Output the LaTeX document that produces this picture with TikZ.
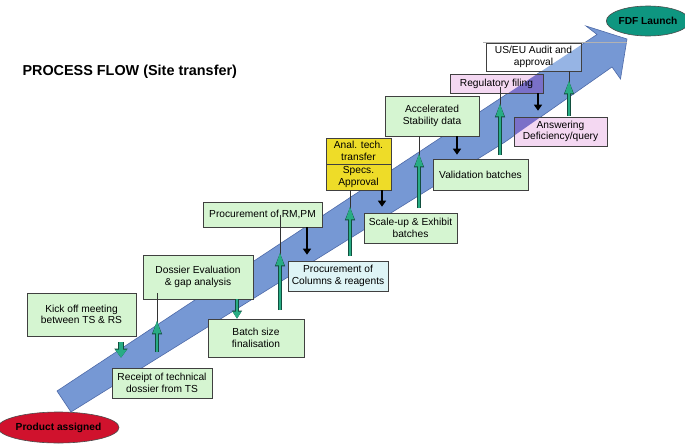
\documentclass[tikz,border=0pt]{standalone}
\usepackage{fontspec}
\setmainfont{Liberation Sans}
\usetikzlibrary{arrows.meta, positioning, shapes.geometric, calc}

\pgfdeclarelayer{background}
\pgfsetlayers{background,main}

\definecolor{bandblue}{RGB}{118,152,212}
\definecolor{bandedge}{RGB}{78,106,168}
\definecolor{bandpurple}{RGB}{122,112,200}
\definecolor{bandlight}{RGB}{150,180,228}
\definecolor{boxgreen}{RGB}{213,245,209}
\definecolor{boxcyan}{RGB}{222,244,246}
\definecolor{boxyellow}{RGB}{238,220,40}
\definecolor{boxpink}{RGB}{244,216,242}
\definecolor{arrowteal}{RGB}{40,172,132}
\definecolor{arrowedge}{RGB}{18,78,62}
\definecolor{launchteal}{RGB}{14,150,128}
\definecolor{startred}{RGB}{208,18,45}

\tikzset{
    stepbox/.style={draw=black!75, line width=0.6pt, fill=boxgreen, align=center,
        inner sep=0pt, font=\fontsize{10.2}{11.7}\selectfont},
    milestone/.style={ellipse, draw=black!70, line width=0.6pt, inner sep=0pt,
        font=\bfseries\fontsize{10.2}{12}\selectfont},
    link/.style={draw=black!80, line width=0.6pt},
    up/.style={draw=arrowteal, line width=2.6pt, -{Triangle[length=13pt,width=7.5pt]},
        preaction={draw=arrowedge, line width=3.6pt, -{Triangle[length=14pt,width=9pt]}}},
    downfat/.style={draw=arrowteal, line width=4.4pt, -{Triangle[length=8pt,width=11pt]},
        preaction={draw=arrowedge, line width=5.4pt, -{Triangle[length=9pt,width=12.6pt]}}},
    downteal/.style={draw=arrowteal, line width=2.6pt, -{Triangle[length=7pt,width=8pt]},
        preaction={draw=arrowedge, line width=3.6pt, -{Triangle[length=8pt,width=9.5pt]}}},
    downblack/.style={draw=black, line width=2.4pt, -{Triangle[length=6pt,width=8pt]}},
}

\begin{document}
\begin{tikzpicture}[x=1pt, y=-1pt]
    \useasboundingbox (0,0) rectangle (685,447);

    % Big arrow outline
    \coordinate (tailup) at (57,391);
    \coordinate (taillow) at (71,412);
    \coordinate (neckup) at (597,34.5);
    \coordinate (barbup) at (586,26);
    \coordinate (tip) at (627,39);
    \coordinate (barblow) at (620.5,79);
    \coordinate (necklow) at (612,67);
    \coordinate (bend) at (505,142);
    \def\bandpath{(tailup) -- (neckup) -- (barbup) -- (tip) -- (barblow) -- (necklow) -- (bend) -- (taillow) -- cycle}

    % Title
    \node[anchor=west, font=\bfseries\fontsize{14.4}{16}\selectfont] (title) at (19,72) {PROCESS FLOW (Site transfer)};

    % Steps
    \node[stepbox, minimum width=109pt, minimum height=43pt] (kickoff) at (81.5,314.5) {Kick off meeting\\between TS \& RS};
    \node[stepbox, minimum width=100pt, minimum height=30pt] (receipt) at (162,383) {Receipt of technical\\dossier from TS};
    \node[stepbox, minimum width=110pt, minimum height=44pt] (dossier) at (198,277) {Dossier Evaluation\\\& gap analysis};
    \node[stepbox, minimum width=96pt, minimum height=38pt] (batch) at (256,338) {Batch size\\finalisation};
    \node[stepbox, minimum width=119pt, minimum height=25pt] (rmpm) at (262.5,214.5) {Procurement of RM,PM};
    \node[stepbox, fill=boxcyan, minimum width=100pt, minimum height=30pt] (columns) at (338,276) {Procurement of\\Columns \& reagents};
    \node[stepbox, fill=boxyellow, minimum width=65pt, minimum height=26pt] (analtech) at (358.5,151) {Anal. tech.\\transfer};
    \node[stepbox, fill=boxyellow, minimum width=65pt, minimum height=26pt] (specs) at (358.5,177) {Specs.\\Approval};
    \node[stepbox, minimum width=93pt, minimum height=30pt] (scaleup) at (410.5,228) {Scale-up \& Exhibit\\batches};
    \node[stepbox, minimum width=94pt, minimum height=40pt] (stability) at (432,116) {Accelerated\\Stability data};
    \node[stepbox, minimum width=95pt, minimum height=31pt] (validation) at (480.5,174.5) {Validation batches};

    % Boxes lying over the arrow head (filled on the background layer)
    \draw[gray!60, line width=0.6pt] (483,42.5) -- (tip |- 0,42.5);
    \node[stepbox, fill=none, minimum width=93pt, minimum height=19pt] (filing) at (496.5,83.5) {Regulatory filing};
    \node[stepbox, fill=none, minimum width=95pt, minimum height=28pt] (audit) at (533.5,57) {US/EU Audit and\\approval};
    \node[stepbox, fill=none, minimum width=93pt, minimum height=29pt] (answer) at (560.5,131.5) {Answering\\Deficiency/query};

    \begin{pgfonlayer}{background}
        \filldraw[fill=bandblue, draw=bandedge, line width=0.6pt] \bandpath;
        \foreach \stepname/\stepfill/\overlapfill in {filing/boxpink/bandpurple, audit/white/bandlight, answer/boxpink/bandpurple} {
            \fill[\stepfill] (\stepname.south west) rectangle (\stepname.north east);
            \begin{scope}
                \clip \bandpath;
                \fill[\overlapfill] (\stepname.south west) rectangle (\stepname.north east);
            \end{scope}
        }
    \end{pgfonlayer}

    % Arrows up from the band
    \coordinate (u1) at (157,352);
    \coordinate (u2) at (280,310);
    \coordinate (u3) at (350,256);
    \coordinate (u4) at (419,208);
    \coordinate (u5) at (500,155);
    \coordinate (u6) at (569,116);
    \draw[link] (u1) -- ($(u1 |- dossier.south)+(0,-6)$);
    \draw[up] (u1) -- ($(u1 |- dossier.south)+(0,21)$);
    \draw[link] (u2) -- ($(u2 |- rmpm.south)+(0,-12)$);
    \draw[up] (u2) -- ($(u2 |- rmpm.south)+(0,25)$);
    \draw[link] (u3) -- (u3 |- specs.south);
    \draw[up] (u3) -- ($(u3 |- specs.south)+(0,16)$);
    \draw[link] (u4) -- (u4 |- stability.south);
    \draw[up] (u4) -- ($(u4 |- stability.south)+(0,17)$);
    \draw[link] (u5) -- ($(u5 |- filing.south)+(0,-6)$);
    \draw[up] (u5) -- ($(u5 |- filing.south)+(0,10)$);
    \draw[link] (u6) -- (u6 |- audit.south);
    \draw[up] (u6) -- ($(u6 |- audit.south)+(0,9)$);

    % Arrows down to the next step
    \draw[downfat, shorten <=6pt, shorten >=10pt] (kickoff.south -| 121,0) -- (receipt.north -| 121,0);
    \draw[downteal] (dossier.south -| 237,0) -- (batch.north -| 237,0);
    \draw[downblack, shorten >=6pt] (rmpm.south -| 307,0) -- (columns.north -| 307,0);
    \draw[downblack, shorten >=6pt] (specs.south -| 382,0) -- (scaleup.north -| 382,0);
    \draw[downblack, shorten >=4pt] (stability.south -| 457,0) -- (validation.north -| 457,0);
    \draw[downblack, shorten >=6pt] (filing.south -| 538,0) -- (answer.north -| 538,0);

    % Start and end
    \node[milestone, fill=startred, minimum width=111pt, minimum height=31pt] (start) at (58.5,427.5) {Product assigned};
    \node[milestone, fill=launchteal, minimum width=72pt, minimum height=30pt] (launch) at (648,21) {FDF Launch};
\end{tikzpicture}
\end{document}
